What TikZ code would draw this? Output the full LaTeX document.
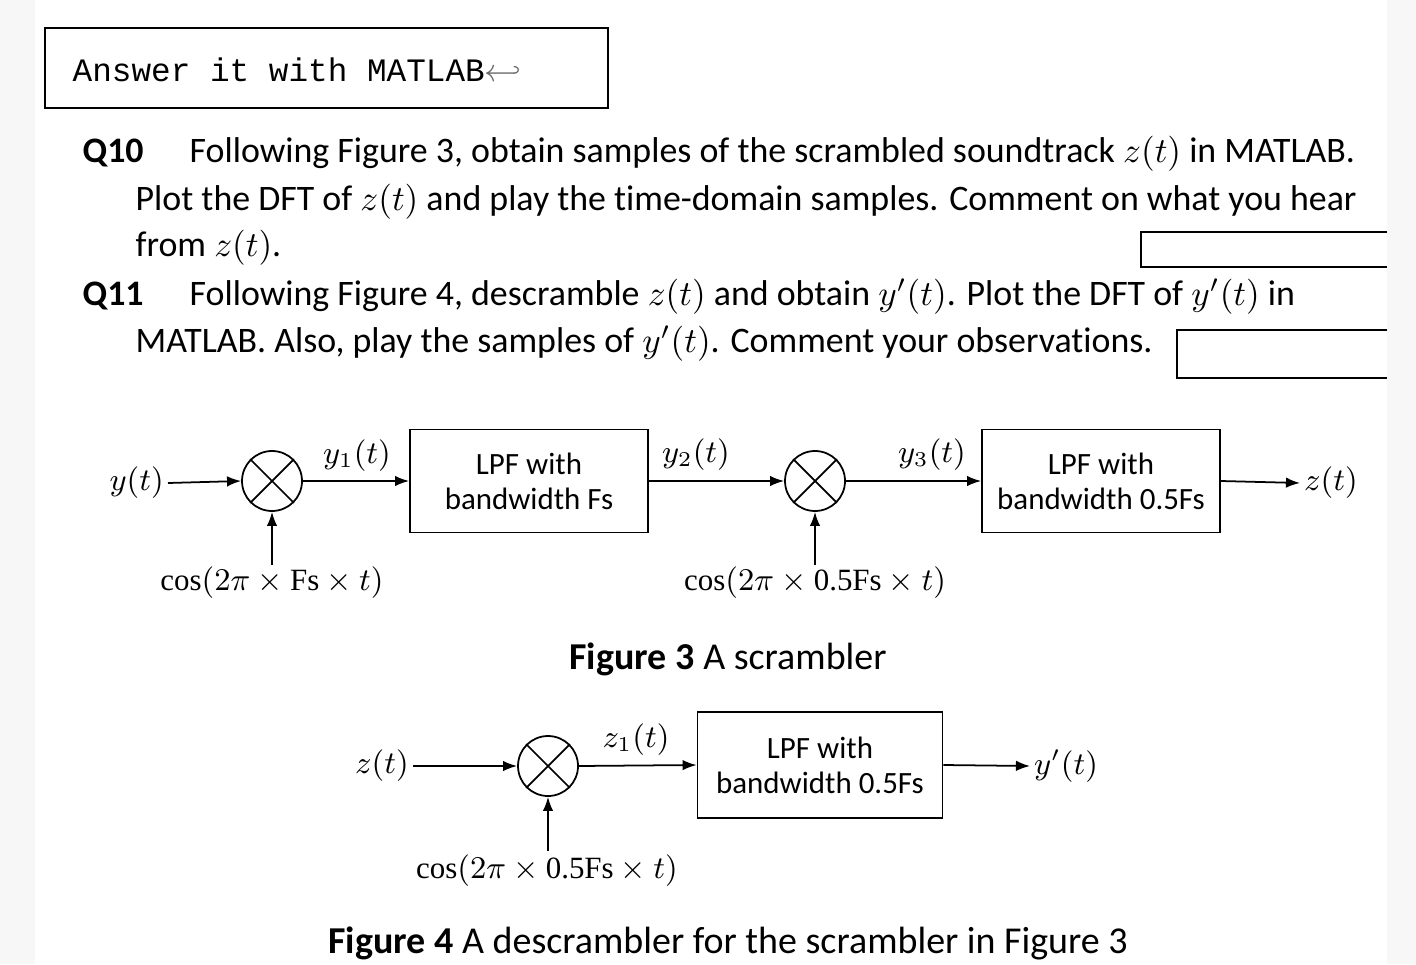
\documentclass[tikz,border=0pt]{standalone}
\usepackage{fontspec}
\setmainfont[Ligatures=NoCommon]{Carlito}
\newfontfamily\monof{Liberation Mono}
\newfontfamily\serf{Liberation Serif}
\newcommand{\Fsr}{\mbox{\serf Fs}}
\newcommand{\hlf}{\mbox{\serf 0.5}}
\newcommand{\coss}{\mbox{\serf cos}}
\usetikzlibrary{arrows.meta}
\begin{document}
\begin{tikzpicture}[x=0.01cm,y=-0.01cm,
  txt/.style={anchor=base west,inner sep=0,font=\fontsize{10.2}{12}\selectfont},
  lbl/.style={inner sep=1pt,font=\fontsize{8.8}{10}\selectfont},
  blk/.style={draw,line width=0.5pt,minimum width=238*0.01cm,minimum height=103*0.01cm,align=center,font=\fontsize{8.8}{10}\selectfont,inner sep=0},
  mix/.style={draw,circle,line width=0.5pt,minimum size=60*0.01cm,inner sep=0},
  arr/.style={-{Latex[length=4pt,width=3pt]},line width=0.5pt},
  ln/.style={line width=0.5pt}]
\useasboundingbox (0,0) rectangle (1416,964);
\fill[black!3] (0,0) rectangle (1416,964);
\fill[white] (35,0) rectangle (1387,964);
% top box
\draw[line width=0.8pt] (45,28) rectangle (608,108);
\node[anchor=west,inner sep=0,font=\monof\fontsize{9.3}{11}\selectfont] (ans) at (72,70) {Answer it with MATLAB\textcolor{black!60}{$\hookleftarrow$}};
% questions
\node[txt] (q10) at (82,163) {\textbf{Q10}};
\node[txt] (l1) at (189,163) {Following Figure 3, obtain samples of the scrambled soundtrack $z(t)$ in MATLAB.};
\node[txt] (l2) at (135,211) {Plot the DFT of $z(t)$ and play the time-domain samples. Comment on what you hear};
\node[txt] (l3) at (135,257) {from $z(t)$.};
\node[txt] (q11) at (82,305) {\textbf{Q11}};
\node[txt] (l4) at (189,305) {Following Figure 4, descramble $z(t)$ and obtain $y'(t)$. Plot the DFT of $y'(t)$ in};
\node[txt] (l5) at (135,352) {MATLAB. Also, play the samples of $y'(t)$. Comment your observations.};
\draw[line width=0.8pt] (1387,232) -| (1141,267) -- (1387,267);
\draw[line width=0.8pt] (1387,330) -| (1177,378) -- (1387,378);
% Figure 3
\node[lbl,anchor=east] (yt) at (168,483) {$y(t)$};
\node[mix] (m1) at (272,481) {};
\draw[ln] (m1.north west) -- (m1.south east) (m1.north east) -- (m1.south west);
\node[lbl] (c1) at (272,583) {$\coss(2\pi\times\Fsr\times t)$};
\draw[arr] (272,565) coordinate (c1t) -- (m1.south);
\draw[arr] (yt.east) -- (m1.west);
\node[blk] (b1) at (529,481) {LPF with\\bandwidth Fs};
\draw[arr] (m1.east) -- (b1.west);
\node[lbl] (y1) at (357,456) {$y_1(t)$};
\node[mix] (m2) at (815,481) {};
\draw[ln] (m2.north west) -- (m2.south east) (m2.north east) -- (m2.south west);
\draw[arr] (b1.east) -- (m2.west);
\node[lbl] (y2) at (696,455) {$y_2(t)$};
\node[lbl] (c2) at (815,583) {$\coss(2\pi\times\hlf\Fsr\times t)$};
\draw[arr] (815,565) coordinate (c2t) -- (m2.south);
\node[blk] (b2) at (1101,481) {LPF with\\bandwidth 0.5Fs};
\draw[arr] (m2.east) -- (b2.west);
\node[lbl] (y3) at (932,455) {$y_3(t)$};
\node[lbl,anchor=west] (zt) at (1300,483) {$z(t)$};
\draw[arr] (b2.east) -- (zt.west);
\node[inner sep=0,font=\fontsize{10.8}{12}\selectfont] (cap3) at (728,659) {\textbf{Figure 3} A scrambler};
% Figure 4
\node[lbl,anchor=east] (zt2) at (413,766) {$z(t)$};
\node[mix] (m3) at (548,766) {};
\draw[ln] (m3.north west) -- (m3.south east) (m3.north east) -- (m3.south west);
\draw[arr] (zt2.east) -- (m3.west);
\node[lbl] (c3) at (547,871) {$\coss(2\pi\times\hlf\Fsr\times t)$};
\draw[arr] (548,851) coordinate (c3t) -- (m3.south);
\node[blk,minimum width=245*0.01cm,minimum height=106*0.01cm] (b3) at (820,765) {LPF with\\bandwidth 0.5Fs};
\draw[arr] (m3.east) -- (b3.west);
\node[lbl] (z1) at (636,740) {$z_1(t)$};
\node[lbl,anchor=west] (yp) at (1030,766) {$y'(t)$};
\draw[arr] (b3.east) -- (yp.west);
\node[inner sep=0,font=\fontsize{10.8}{12}\selectfont] (cap4) at (728,943) {\textbf{Figure 4} A descrambler for the scrambler in Figure 3};
\end{tikzpicture}
\end{document}
